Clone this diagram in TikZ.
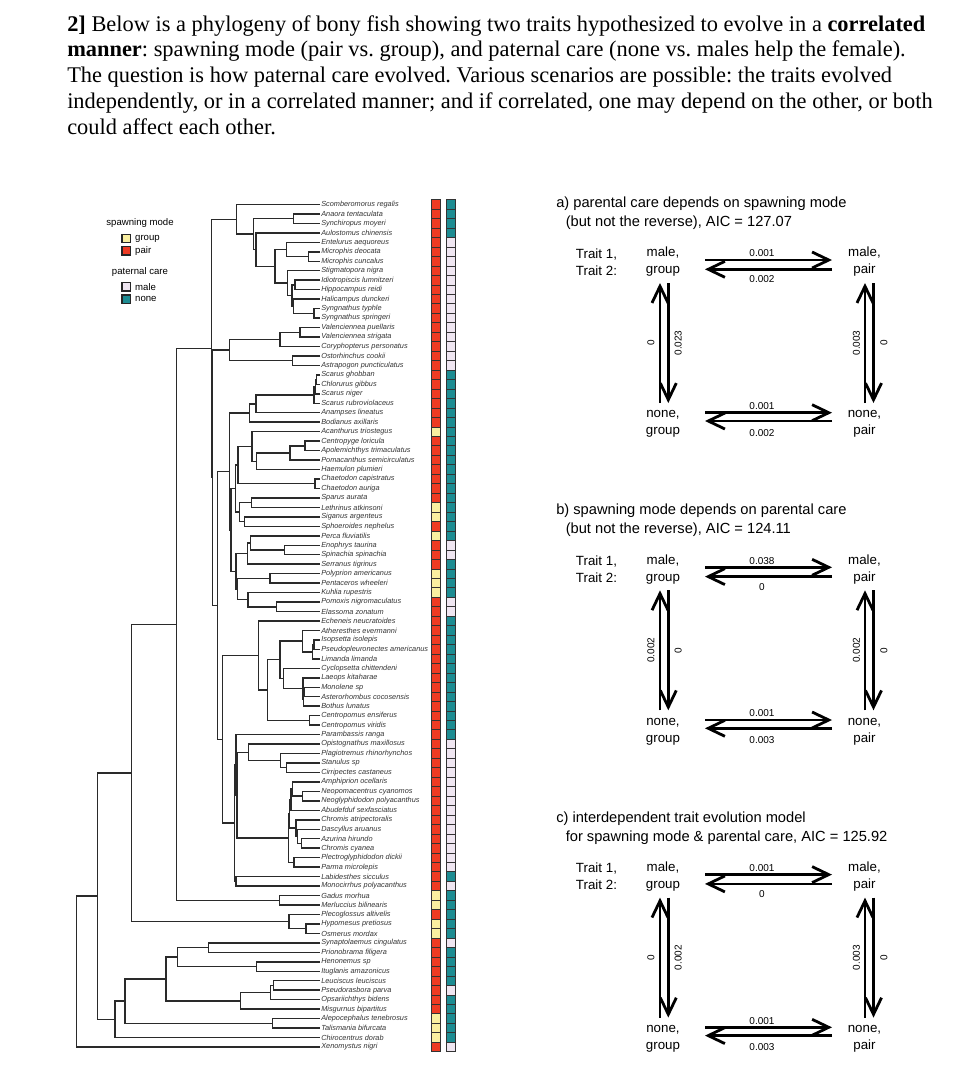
\documentclass[tikz,border=0pt]{standalone}
\usepackage{fontspec}
\setmainfont{Liberation Sans}
\newfontfamily\timesfont{Liberation Serif}
\usetikzlibrary{calc,positioning,arrows.meta}
\definecolor{pair}{HTML}{EE3B23}
\definecolor{group}{HTML}{F9EFA0}
\definecolor{male}{HTML}{EFE6F1}
\definecolor{nocare}{HTML}{1D8C92}
\definecolor{branchgray}{HTML}{2A2A2A}
\frenchspacing
% one tip: row, name, spawning colour, care colour
\newcommand\taxon[4]{%
  \coordinate (t#1) at (320,#1);
  \node[tiplab] (lab#1) at (320.5,#1) {#2};
  \draw[traitbox,fill=#3] (431.7,#1-0.5) rectangle (440.7,#1+0.5);
  \draw[traitbox,fill=#4] (446.7,#1-0.5) rectangle (455.7,#1+0.5);
}
% inner node #1 at x=#2 joining #3 and #4
\newcommand\clade[4]{%
  \coordinate (#1x) at (#2,0);
  \coordinate (#1m) at ($(#3)!0.5!(#4)$);
  \coordinate (#1) at (#1m -| #1x);
  \draw[branch] (#3) -| (#1) |- (#4);
}
% four states and their arrows, #2 = vertical offset
\newcommand\ratesquare[2]{%
  \node[traitlab] (#1trait) at (575.7,{262+#2}) {Trait 1,\\Trait 2:};
  \node[state] (#1mg) at (663,{262+#2}) {male,\\group};
  \node[state] (#1mp) at (864.5,{262+#2}) {male,\\pair};
  \node[state] (#1ng) at (663,{424+#2}) {none,\\group};
  \node[state] (#1np) at (864.5,{424+#2}) {none,\\pair};
  \draw[rate] ($(#1mg)+(42,-2)$) -- ($(#1mp)+(-32.5,-2)$);
  \draw[rate] ($(#1mp)+(-32.5,7.3)$) -- ($(#1mg)+(42,7.3)$);
  \draw[rate] ($(#1ng)+(42,-11.3)$) -- ($(#1np)+(-32.5,-11.3)$);
  \draw[rate] ($(#1np)+(-32.5,-3)$) -- ($(#1ng)+(42,-3)$);
  \draw[rate] ($(#1ng)+(-3,-21)$) -- ($(#1mg)+(-3,21)$);
  \draw[rate] ($(#1mg)+(5.3,21)$) -- ($(#1ng)+(5.3,-21)$);
  \draw[rate] ($(#1np)+(0.5,-21)$) -- ($(#1mp)+(0.5,21)$);
  \draw[rate] ($(#1mp)+(9,21)$) -- ($(#1np)+(9,-21)$);
}

\begin{document}
\begin{tikzpicture}[x=0.75pt,y=-0.75pt,
  branch/.style={draw=branchgray,line width=1.1pt},
  tiplab/.style={anchor=west,inner sep=0.4pt,text=black!80,font=\fontsize{5.5}{6}\selectfont\itshape},
  traitbox/.style={draw=black!80,line width=0.6pt},
  legkey/.style={draw=black!85,line width=0.8pt,minimum size=6.3pt,inner sep=0},
  legtext/.style={inner sep=0,font=\fontsize{7.2}{8}\selectfont},
  headline/.style={anchor=base west,inner sep=0,font=\timesfont\fontsize{16.8}{19}\selectfont},
  paneltitle/.style={anchor=base west,inner sep=0,font=\fontsize{11}{13}\selectfont},
  traitlab/.style={anchor=west,align=left,inner sep=0,font=\fontsize{10}{12.75}\selectfont},
  state/.style={align=center,inner sep=0,minimum width=30pt,font=\fontsize{10}{12.75}\selectfont},
  ratelab/.style={inner sep=0,font=\fontsize{7.5}{9}\selectfont},
  rate/.style={line width=2.1pt,-{Straight Barb[length=12.5pt,width=12pt]}}]
\fill[white] (0,0) rectangle (958,1072);
\useasboundingbox (0,0) rectangle (958,1072);

%%%%% question text %%%%%
\node[headline] (hd1) at (67,31) {\textbf{2]} Below is a phylogeny of bony fish showing two traits hypothesized to evolve in a \textbf{correlated}};
\node[headline] (hd2) at (67,56.75) {\textbf{manner}: spawning mode (pair vs. group), and paternal care (none vs. males help the female).};
\node[headline] (hd3) at (67,82.5) {The question is how paternal care evolved. Various scenarios are possible: the traits evolved};
\node[headline] (hd4) at (67,108.25) {independently, or in a correlated manner; and if correlated, one may depend on the other, or both};
\node[headline] (hd5) at (67,134) {could affect each other.};

%%%%% legend %%%%%
\node[legtext] (spawnhd) at (140,223.3) {spawning mode};
\node[legkey,fill=group] (kgroup) at (126.2,238.5) {};
\node[legtext,right=3pt of kgroup] (lgroup) {group};
\node[legkey,fill=pair] (kpair) at (126.2,250.8) {};
\node[legtext,right=3pt of kpair] (lpair) {pair};
\node[legtext] (carehd) at (140,271.7) {paternal care};
\node[legkey,fill=male] (kmale) at (126.2,286.8) {};
\node[legtext,right=3pt of kmale] (lmale) {male};
\node[legkey,fill=nocare] (knone) at (126.2,299.2) {};
\node[legtext,right=3pt of knone] (lnone) {none};

%%%%% tree, one row per species %%%%%
\begin{scope}[yshift=-146.27pt,y=-7.0995pt]
\taxon{1}{Scomberomorus regalis}{pair}{nocare}
\taxon{2}{Anaora tentaculata}{pair}{nocare}
\taxon{3}{Synchiropus moyeri}{pair}{nocare}
\taxon{4}{Aulostomus chinensis}{pair}{nocare}
\taxon{5}{Entelurus aequoreus}{pair}{male}
\taxon{6}{Microphis deocata}{pair}{male}
\taxon{7}{Microphis cuncalus}{pair}{male}
\taxon{8}{Stigmatopora nigra}{pair}{male}
\taxon{9}{Idiotropiscis lumnitzeri}{pair}{male}
\taxon{10}{Hippocampus reidi}{pair}{male}
\taxon{11}{Halicampus dunckeri}{pair}{male}
\taxon{12}{Syngnathus typhle}{pair}{male}
\taxon{13}{Syngnathus springeri}{pair}{male}
\taxon{14}{Valenciennea puellaris}{pair}{male}
\taxon{15}{Valenciennea strigata}{pair}{male}
\taxon{16}{Coryphopterus personatus}{pair}{male}
\taxon{17}{Ostorhinchus cookii}{pair}{male}
\taxon{18}{Astrapogon puncticulatus}{pair}{male}
\taxon{19}{Scarus ghobban}{pair}{nocare}
\taxon{20}{Chlorurus gibbus}{pair}{nocare}
\taxon{21}{Scarus niger}{pair}{nocare}
\taxon{22}{Scarus rubroviolaceus}{pair}{nocare}
\taxon{23}{Anampses lineatus}{pair}{nocare}
\taxon{24}{Bodianus axillaris}{pair}{nocare}
\taxon{25}{Acanthurus triostegus}{group}{nocare}
\taxon{26}{Centropyge loricula}{pair}{nocare}
\taxon{27}{Apolemichthys trimaculatus}{pair}{nocare}
\taxon{28}{Pomacanthus semicirculatus}{pair}{nocare}
\taxon{29}{Haemulon plumieri}{pair}{nocare}
\taxon{30}{Chaetodon capistratus}{pair}{nocare}
\taxon{31}{Chaetodon auriga}{pair}{nocare}
\taxon{32}{Sparus aurata}{pair}{nocare}
\taxon{33}{Lethrinus atkinsoni}{group}{nocare}
\taxon{34}{Siganus argenteus}{group}{nocare}
\taxon{35}{Sphoeroides nephelus}{pair}{nocare}
\taxon{36}{Perca fluviatilis}{group}{nocare}
\taxon{37}{Enophrys taurina}{pair}{male}
\taxon{38}{Spinachia spinachia}{pair}{male}
\taxon{39}{Serranus tigrinus}{pair}{nocare}
\taxon{40}{Polyprion americanus}{group}{nocare}
\taxon{41}{Pentaceros wheeleri}{group}{nocare}
\taxon{42}{Kuhlia rupestris}{group}{nocare}
\taxon{43}{Pomoxis nigromaculatus}{pair}{male}
\taxon{44}{Elassoma zonatum}{pair}{male}
\taxon{45}{Echeneis neucratoides}{pair}{nocare}
\taxon{46}{Atheresthes evermanni}{pair}{nocare}
\taxon{47}{Isopsetta isolepis}{pair}{nocare}
\taxon{48}{Pseudopleuronectes americanus}{pair}{nocare}
\taxon{49}{Limanda limanda}{pair}{nocare}
\taxon{50}{Cyclopsetta chittendeni}{pair}{nocare}
\taxon{51}{Laeops kitaharae}{pair}{nocare}
\taxon{52}{Monolene sp}{pair}{nocare}
\taxon{53}{Asterorhombus cocosensis}{pair}{nocare}
\taxon{54}{Bothus lunatus}{pair}{nocare}
\taxon{55}{Centropomus ensiferus}{pair}{nocare}
\taxon{56}{Centropomus viridis}{pair}{nocare}
\taxon{57}{Parambassis ranga}{pair}{nocare}
\taxon{58}{Opistognathus maxillosus}{pair}{male}
\taxon{59}{Plagiotremus rhinorhynchos}{pair}{male}
\taxon{60}{Stanulus sp}{pair}{male}
\taxon{61}{Cirripectes castaneus}{pair}{male}
\taxon{62}{Amphiprion ocellaris}{pair}{male}
\taxon{63}{Neopomacentrus cyanomos}{pair}{male}
\taxon{64}{Neoglyphidodon polyacanthus}{pair}{male}
\taxon{65}{Abudefduf sexfasciatus}{pair}{male}
\taxon{66}{Chromis atripectoralis}{pair}{male}
\taxon{67}{Dascyllus aruanus}{pair}{male}
\taxon{68}{Azurina hirundo}{pair}{male}
\taxon{69}{Chromis cyanea}{pair}{male}
\taxon{70}{Plectroglyphidodon dickii}{pair}{male}
\taxon{71}{Parma microlepis}{pair}{male}
\taxon{72}{Labidesthes sicculus}{pair}{nocare}
\taxon{73}{Monocirrhus polyacanthus}{pair}{male}
\taxon{74}{Gadus morhua}{group}{nocare}
\taxon{75}{Merluccius bilinearis}{group}{nocare}
\taxon{76}{Plecoglossus altivelis}{pair}{nocare}
\taxon{77}{Hypomesus pretiosus}{group}{nocare}
\taxon{78}{Osmerus mordax}{group}{nocare}
\taxon{79}{Synaptolaemus cingulatus}{pair}{male}
\taxon{80}{Prionobrama filigera}{pair}{nocare}
\taxon{81}{Henonemus sp}{pair}{nocare}
\taxon{82}{Ituglanis amazonicus}{pair}{nocare}
\taxon{83}{Leuciscus leuciscus}{pair}{nocare}
\taxon{84}{Pseudorasbora parva}{pair}{male}
\taxon{85}{Opsariichthys bidens}{pair}{nocare}
\taxon{86}{Misgurnus bipartitus}{pair}{nocare}
\taxon{87}{Alepocephalus tenebrosus}{group}{nocare}
\taxon{88}{Talismania bifurcata}{group}{nocare}
\taxon{89}{Chirocentrus dorab}{group}{nocare}
\taxon{90}{Xenomystus nigri}{pair}{male}

% pipefish and relatives
\clade{mic}{308.3}{t6}{t7}
\clade{ent}{286.7}{t5}{mic}
\clade{idh}{295}{t9}{t10}
\clade{syn}{314}{t12}{t13}
\clade{hal}{293.3}{t11}{syn}
\clade{hip}{291.8}{idh}{hal}
\clade{stg}{287.3}{t8}{hip}
\clade{sng}{275}{ent}{stg}
\clade{aul}{256}{t4}{sng}
\clade{cal}{293.3}{t2}{t3}
\clade{ba}{253.3}{cal}{aul}
\clade{sco}{236.7}{t1}{ba}
% gobies, cardinalfish
\clade{val}{300}{t14}{t15}
\clade{gob}{280}{val}{t16}
\clade{apo}{292.3}{t17}{t18}
\clade{gap}{229.3}{gob}{apo}
% wrasses
\clade{sca}{316.7}{t19}{t20}
\clade{scb}{315.3}{sca}{t21}
\clade{scc}{314}{scb}{t22}
\clade{lba}{256}{scc}{t23}
\clade{lbb}{249.3}{lba}{t24}
% surgeons to perches
\clade{cen}{305}{t26}{t27}
\clade{pom}{290}{cen}{t28}
\clade{hae}{256.7}{pom}{t29}
\clade{aca}{252}{t25}{hae}
\clade{cha}{315}{t30}{t31}
\clade{acc}{238}{aca}{cha}
\clade{spa}{251.3}{t32}{t33}
\clade{sig}{244.7}{t34}{t35}
\clade{sps}{239.3}{spa}{sig}
\clade{xa}{235.5}{acc}{sps}
\clade{cot}{284.3}{t37}{t38}
\clade{per}{250.7}{t36}{cot}
\clade{ser}{247.3}{per}{t39}
\clade{poly}{270}{t40}{t41}
\clade{ela}{276.7}{t43}{t44}
\clade{kuh}{248}{t42}{ela}
\clade{pok}{237.7}{poly}{kuh}
\clade{prc}{236}{ser}{pok}
\clade{xb}{231}{xa}{prc}
\clade{sgr}{229.7}{lbb}{xb}
% flatfish
\clade{pla}{314}{t47}{t48}
\clade{plb}{312.7}{pla}{t49}
\clade{pln}{302.3}{t46}{plb}
\clade{boa}{304.3}{t52}{t53}
\clade{bob}{303.7}{boa}{t54}
\clade{boc}{303}{t51}{bob}
\clade{cyc}{283.7}{t50}{boc}
\clade{flt}{280}{pln}{cyc}
\clade{ctp}{309.3}{t55}{t56}
\clade{flc}{267.3}{flt}{ctp}
\clade{ech}{258.3}{t45}{flc}
% blennies, damselfish
\clade{bla}{286.7}{t60}{t61}
\clade{blb}{280.7}{t59}{bla}
\clade{opi}{248.3}{t58}{blb}
\clade{ama}{302.3}{t63}{t64}
\clade{amb}{292.3}{t62}{ama}
\clade{amc}{291.2}{amb}{t65}
\clade{chra}{301.7}{t68}{t69}
\clade{chrb}{297.3}{t67}{chra}
\clade{chrc}{296}{t66}{chrb}
\clade{pma}{289.7}{amc}{chrc}
\clade{ppa}{294}{t70}{t71}
\clade{pmc}{288.3}{pma}{ppa}
\clade{opp}{237}{opi}{pmc}
\clade{pbs}{236}{t57}{opp}
\clade{lmo}{236}{t72}{t73}
\clade{wgr}{234.3}{pbs}{lmo}
\clade{tgr}{222.7}{ech}{wgr}
% backbone
\clade{pthr}{217.7}{sgr}{tgr}
\clade{pgob}{212.5}{gap}{pthr}
\clade{pct}{211.5}{sco}{pgob}
\clade{gad}{279.3}{t74}{t75}
\clade{acm}{176.7}{pct}{gad}
\clade{osm}{306}{t77}{t78}
\clade{plc}{289}{t76}{osm}
\clade{eut}{131.7}{acm}{plc}
% otophysi and the rest
\clade{cra}{208.3}{t79}{t80}
\clade{sil}{256.7}{t81}{t82}
\clade{chs}{177.7}{cra}{sil}
\clade{cya}{273.3}{t83}{t84}
\clade{cyb}{270.3}{cya}{t85}
\clade{cyp}{240.7}{cyb}{t86}
\clade{oto}{166}{chs}{cyp}
\clade{alp}{272.3}{t87}{t88}
\clade{ota}{125}{oto}{alp}
\clade{clu}{115}{ota}{t89}
\clade{tel}{97.3}{eut}{clu}
\clade{root}{76.7}{tel}{t90}
\end{scope}

%%%%% model a %%%%%
\node[paneltitle] (atitle) at (556,207.5) {a) parental care depends on spawning mode};
\node[paneltitle] (aaic) at (565.5,226.5) {(but not the reverse), AIC = 127.07};
\ratesquare{a}{0}
\node[ratelab] (ar1) at (762,253.3) {0.001};
\node[ratelab] (ar2) at (762,279.3) {0.002};
\node[ratelab] (ar3) at (762,406) {0.001};
\node[ratelab] (ar4) at (762,432.7) {0.002};
\node[ratelab,rotate=90] (ar5) at (651,343) {0};
\node[ratelab,rotate=90] (ar6) at (678.3,343) {0.023};
\node[ratelab,rotate=90] (ar7) at (856.5,343) {0.003};
\node[ratelab,rotate=90] (ar8) at (884,343) {0};

%%%%% model b %%%%%
\node[paneltitle] (btitle) at (556,514.8) {b) spawning mode depends on parental care};
\node[paneltitle] (baic) at (565.5,533.8) {(but not the reverse), AIC = 124.11};
\ratesquare{b}{307.3}
\node[ratelab] (br1) at (762,560.6) {0.038};
\node[ratelab] (br2) at (762,586.6) {0};
\node[ratelab] (br3) at (762,713.3) {0.001};
\node[ratelab] (br4) at (762,740) {0.003};
\node[ratelab,rotate=90] (br5) at (651,650.3) {0.002};
\node[ratelab,rotate=90] (br6) at (678.3,650.3) {0};
\node[ratelab,rotate=90] (br7) at (856.5,650.3) {0.002};
\node[ratelab,rotate=90] (br8) at (884,650.3) {0};

%%%%% model c %%%%%
\node[paneltitle] (ctitle) at (556,822.1) {c) interdependent trait evolution model};
\node[paneltitle] (caic) at (565.5,841.1) {for spawning mode \& parental care, AIC = 125.92};
\ratesquare{c}{614.6}
\node[ratelab] (cr1) at (762,867.9) {0.001};
\node[ratelab] (cr2) at (762,893.9) {0};
\node[ratelab] (cr3) at (762,1020.6) {0.001};
\node[ratelab] (cr4) at (762,1047.3) {0.003};
\node[ratelab,rotate=90] (cr5) at (651,957.6) {0};
\node[ratelab,rotate=90] (cr6) at (678.3,957.6) {0.002};
\node[ratelab,rotate=90] (cr7) at (856.5,957.6) {0.003};
\node[ratelab,rotate=90] (cr8) at (884,957.6) {0};
\end{tikzpicture}
\end{document}
